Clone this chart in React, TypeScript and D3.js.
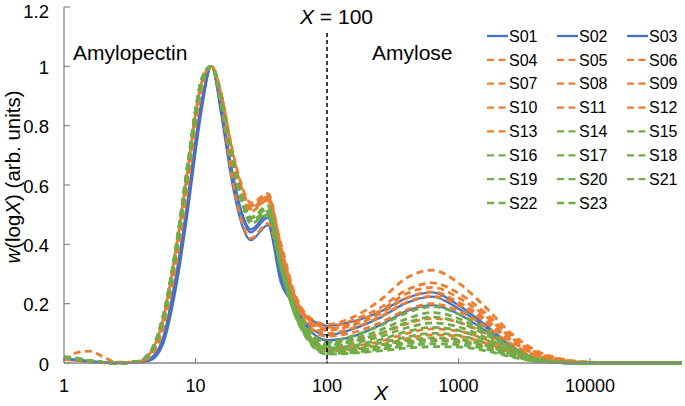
import React, { useEffect, useRef } from "react";
import * as d3 from "d3";

// degree of polymerisation X (log-spaced sampling)
const dpX = [1, 1.26, 1.58, 2, 2.51, 3.55, 4.47, 5.62, 7.08, 8.91, 10, 11.2, 13.2, 15.8, 18.6, 22.4, 26.3, 35.5, 44.7, 56.2, 70.8, 100, 158, 251, 398, 631, 1000, 1585, 2512, 3981, 6310, 10000, 15849, 50000];

// w(logX), normalised to the amylopectin peak
const S01 = [0.012, 0.008, 0.004, 0.001, 0, 0.001, 0.008, 0.06, 0.25, 0.54, 0.71, 0.86, 1.0, 0.83, 0.63, 0.47, 0.414, 0.465, 0.27, 0.2, 0.155, 0.125, 0.14, 0.172, 0.218, 0.238, 0.195, 0.13, 0.058, 0.012, 0, 0, 0, 0];
const S02 = [0.014, 0.01, 0.005, 0.001, 0, 0.002, 0.012, 0.075, 0.28, 0.57, 0.74, 0.88, 1.0, 0.85, 0.66, 0.5, 0.44, 0.49, 0.29, 0.19, 0.13, 0.094, 0.115, 0.152, 0.202, 0.224, 0.183, 0.122, 0.055, 0.012, 0, 0, 0, 0];
const S03 = [0.015, 0.011, 0.006, 0.002, 0, 0.002, 0.014, 0.08, 0.29, 0.58, 0.75, 0.89, 1.0, 0.86, 0.67, 0.51, 0.45, 0.5, 0.3, 0.19, 0.12, 0.077, 0.09, 0.127, 0.174, 0.195, 0.165, 0.11, 0.05, 0.01, 0, 0, 0, 0];
const S04 = [0.015, 0.01, 0.005, 0.001, 0, 0.003, 0.03, 0.14, 0.37, 0.67, 0.83, 0.95, 1.0, 0.9, 0.73, 0.58, 0.52, 0.55, 0.4, 0.24, 0.16, 0.13, 0.155, 0.21, 0.285, 0.313, 0.27, 0.19, 0.1, 0.04, 0.012, 0.003, 0, 0];
const S05 = [0.012, 0.008, 0.004, 0.001, 0, 0.002, 0.02, 0.11, 0.33, 0.63, 0.8, 0.93, 1.0, 0.86, 0.65, 0.48, 0.42, 0.47, 0.33, 0.22, 0.15, 0.12, 0.145, 0.185, 0.245, 0.27, 0.235, 0.17, 0.09, 0.035, 0.01, 0.002, 0, 0];
const S06 = [0.01, 0.035, 0.04, 0.02, 0.003, 0.003, 0.03, 0.14, 0.38, 0.68, 0.84, 0.95, 1.0, 0.9, 0.74, 0.6, 0.54, 0.57, 0.39, 0.23, 0.15, 0.115, 0.135, 0.175, 0.233, 0.255, 0.22, 0.16, 0.085, 0.032, 0.01, 0.002, 0, 0];
const S07 = [0.016, 0.011, 0.005, 0.001, 0, 0.003, 0.028, 0.13, 0.36, 0.66, 0.82, 0.94, 1.0, 0.89, 0.72, 0.58, 0.52, 0.56, 0.38, 0.23, 0.15, 0.11, 0.128, 0.165, 0.218, 0.24, 0.205, 0.15, 0.078, 0.03, 0.008, 0.002, 0, 0];
const S08 = [0.015, 0.01, 0.005, 0.001, 0, 0.003, 0.025, 0.12, 0.35, 0.65, 0.82, 0.94, 1.0, 0.88, 0.71, 0.57, 0.51, 0.55, 0.37, 0.22, 0.14, 0.1, 0.118, 0.155, 0.204, 0.225, 0.195, 0.14, 0.072, 0.027, 0.007, 0.001, 0, 0];
const S09 = [0.017, 0.012, 0.006, 0.002, 0, 0.003, 0.03, 0.14, 0.37, 0.67, 0.83, 0.95, 1.0, 0.89, 0.73, 0.59, 0.53, 0.56, 0.37, 0.21, 0.13, 0.09, 0.103, 0.135, 0.178, 0.2, 0.176, 0.125, 0.065, 0.024, 0.006, 0.001, 0, 0];
const S10 = [0.016, 0.011, 0.005, 0.001, 0, 0.003, 0.028, 0.13, 0.36, 0.66, 0.83, 0.94, 1.0, 0.89, 0.72, 0.58, 0.52, 0.55, 0.36, 0.2, 0.11, 0.07, 0.077, 0.098, 0.131, 0.15, 0.138, 0.1, 0.052, 0.02, 0.005, 0, 0, 0];
const S11 = [0.018, 0.013, 0.006, 0.002, 0, 0.003, 0.03, 0.14, 0.38, 0.68, 0.84, 0.95, 1.0, 0.9, 0.73, 0.59, 0.53, 0.57, 0.36, 0.19, 0.1, 0.05, 0.056, 0.072, 0.099, 0.115, 0.108, 0.08, 0.042, 0.016, 0.004, 0, 0, 0];
const S12 = [0.017, 0.012, 0.006, 0.002, 0, 0.003, 0.03, 0.14, 0.37, 0.67, 0.83, 0.95, 1.0, 0.89, 0.72, 0.58, 0.52, 0.56, 0.35, 0.19, 0.09, 0.04, 0.046, 0.06, 0.081, 0.095, 0.09, 0.068, 0.036, 0.013, 0.003, 0, 0, 0];
const S13 = [0.018, 0.013, 0.006, 0.002, 0, 0.003, 0.032, 0.15, 0.38, 0.68, 0.84, 0.95, 1.0, 0.9, 0.73, 0.58, 0.52, 0.55, 0.35, 0.18, 0.09, 0.035, 0.041, 0.052, 0.069, 0.08, 0.076, 0.058, 0.031, 0.011, 0.002, 0, 0, 0];
const S14 = [0.018, 0.013, 0.006, 0.001, 0, 0.004, 0.03, 0.14, 0.37, 0.68, 0.84, 0.95, 1.0, 0.88, 0.71, 0.56, 0.49, 0.52, 0.34, 0.2, 0.12, 0.07, 0.092, 0.125, 0.168, 0.19, 0.165, 0.115, 0.055, 0.015, 0.003, 0, 0, 0];
const S15 = [0.02, 0.014, 0.007, 0.002, 0, 0.004, 0.032, 0.15, 0.38, 0.69, 0.85, 0.95, 1.0, 0.88, 0.7, 0.55, 0.48, 0.51, 0.33, 0.19, 0.11, 0.065, 0.082, 0.11, 0.148, 0.17, 0.15, 0.105, 0.05, 0.013, 0.002, 0, 0, 0];
const S16 = [0.019, 0.014, 0.007, 0.002, 0, 0.004, 0.03, 0.14, 0.37, 0.68, 0.84, 0.95, 1.0, 0.88, 0.71, 0.56, 0.49, 0.52, 0.33, 0.19, 0.11, 0.06, 0.074, 0.099, 0.135, 0.155, 0.138, 0.097, 0.046, 0.012, 0.002, 0, 0, 0];
const S17 = [0.02, 0.015, 0.007, 0.002, 0, 0.004, 0.033, 0.15, 0.38, 0.69, 0.85, 0.96, 1.0, 0.88, 0.7, 0.55, 0.48, 0.5, 0.32, 0.18, 0.1, 0.055, 0.066, 0.088, 0.118, 0.135, 0.122, 0.087, 0.042, 0.011, 0.002, 0, 0, 0];
const S18 = [0.018, 0.013, 0.006, 0.001, 0, 0.004, 0.031, 0.14, 0.37, 0.68, 0.84, 0.95, 1.0, 0.88, 0.71, 0.56, 0.49, 0.52, 0.33, 0.18, 0.1, 0.05, 0.059, 0.078, 0.105, 0.12, 0.11, 0.078, 0.038, 0.01, 0.002, 0, 0, 0];
const S19 = [0.021, 0.015, 0.007, 0.002, 0, 0.004, 0.034, 0.15, 0.39, 0.7, 0.85, 0.96, 1.0, 0.87, 0.7, 0.55, 0.47, 0.5, 0.32, 0.18, 0.09, 0.045, 0.051, 0.067, 0.087, 0.1, 0.093, 0.068, 0.034, 0.009, 0.001, 0, 0, 0];
const S20 = [0.02, 0.014, 0.007, 0.002, 0, 0.004, 0.032, 0.15, 0.38, 0.69, 0.85, 0.95, 1.0, 0.88, 0.71, 0.56, 0.49, 0.53, 0.34, 0.19, 0.1, 0.04, 0.046, 0.059, 0.075, 0.085, 0.08, 0.06, 0.03, 0.008, 0.001, 0, 0, 0];
const S21 = [0.019, 0.014, 0.007, 0.002, 0, 0.004, 0.031, 0.14, 0.37, 0.68, 0.84, 0.95, 1.0, 0.88, 0.71, 0.56, 0.49, 0.52, 0.33, 0.18, 0.09, 0.035, 0.041, 0.052, 0.066, 0.075, 0.071, 0.054, 0.027, 0.007, 0.001, 0, 0, 0];
const S22 = [0.02, 0.015, 0.007, 0.002, 0, 0.004, 0.033, 0.15, 0.38, 0.69, 0.85, 0.96, 1.0, 0.88, 0.7, 0.55, 0.48, 0.51, 0.32, 0.17, 0.085, 0.032, 0.036, 0.046, 0.057, 0.065, 0.062, 0.048, 0.024, 0.006, 0.001, 0, 0, 0];
const S23 = [0.021, 0.016, 0.008, 0.002, 0, 0.004, 0.034, 0.15, 0.39, 0.7, 0.85, 0.96, 1.0, 0.87, 0.7, 0.55, 0.48, 0.5, 0.32, 0.17, 0.08, 0.03, 0.033, 0.041, 0.05, 0.055, 0.054, 0.042, 0.021, 0.005, 0.001, 0, 0, 0];

const seriesNames = ["S01", "S02", "S03", "S04", "S05", "S06", "S07", "S08", "S09", "S10", "S11", "S12", "S13", "S14", "S15", "S16", "S17", "S18", "S19", "S20", "S21", "S22", "S23"];
const seriesValues = [S01, S02, S03, S04, S05, S06, S07, S08, S09, S10, S11, S12, S13, S14, S15, S16, S17, S18, S19, S20, S21, S22, S23];

const xTicks = [1, 10, 100, 1000, 10000];
const yTicks = [0, 0.2, 0.4, 0.6, 0.8, 1, 1.2];

const W = 685;
const H = 406;
const FONT = "'Liberation Sans', Arial, sans-serif";

function styleFor(i: number) {
  if (i < 3) return { color: "#4472C4", dash: null as string | null, width: 2.3 };
  if (i < 13) return { color: "#ED7D31", dash: "7,4.5", width: 2.8 };
  return { color: "#70AD47", dash: "7,4.5", width: 2.8 };
}

export default function App() {
  const svgRef = useRef<SVGSVGElement>(null);

  useEffect(() => {
    if (!svgRef.current) return;
    const svg = d3.select(svgRef.current);
    svg.selectAll("*").remove();

    const left = 64, right = 682, top = 7, bottom = 363;
    const x = d3.scaleLog().domain([1, 50000]).range([left, right]);
    const y = d3.scaleLinear().domain([0, 1.2]).range([bottom, top]);

    // series
    const line = d3.line<number>()
      .x((_, i) => x(dpX[i]))
      .y(d => y(d))
      .curve(d3.curveMonotoneX);

    const g = svg.append("g");
    seriesValues.forEach((vals, i) => {
      const s = styleFor(i);
      g.append("path")
        .attr("d", line(vals) as string)
        .attr("fill", "none")
        .attr("stroke", s.color)
        .attr("stroke-width", s.width)
        .attr("stroke-dasharray", s.dash)
        .attr("stroke-linejoin", "round");
    });

    // axes
    const axisColor = "#868686";
    svg.append("line")
      .attr("x1", left).attr("x2", left).attr("y1", top).attr("y2", bottom)
      .attr("stroke", axisColor).attr("stroke-width", 1.3);
    svg.append("line")
      .attr("x1", left).attr("x2", right).attr("y1", bottom).attr("y2", bottom)
      .attr("stroke", axisColor).attr("stroke-width", 1.3);

    svg.selectAll(".ytick")
      .data(yTicks)
      .join("line")
      .attr("x1", left).attr("x2", left + 6)
      .attr("y1", d => y(d)).attr("y2", d => y(d))
      .attr("stroke", axisColor).attr("stroke-width", 1.2);

    // top label nudged down a little so it stays inside the frame
    svg.selectAll(".ylab")
      .data(yTicks)
      .join("text")
      .attr("x", 49)
      .attr("y", d => Math.max(y(d), 10))
      .attr("dy", "0.42em")
      .attr("text-anchor", "end")
      .attr("font-size", 18.5)
      .attr("font-family", FONT)
      .text(d => String(d));

    svg.selectAll(".xtick")
      .data(xTicks)
      .join("line")
      .attr("x1", d => x(d)).attr("x2", d => x(d))
      .attr("y1", bottom).attr("y2", bottom - 5)
      .attr("stroke", axisColor).attr("stroke-width", 1.2);

    svg.selectAll(".xlab")
      .data(xTicks)
      .join("text")
      .attr("x", d => x(d))
      .attr("y", 392)
      .attr("text-anchor", "middle")
      .attr("font-size", 18)
      .attr("font-family", FONT)
      .text(d => String(d));

    // axis titles
    svg.append("text")
      .attr("x", 381).attr("y", 400)
      .attr("text-anchor", "middle")
      .attr("font-size", 21)
      .attr("font-style", "italic")
      .attr("font-family", FONT)
      .text("X");

    const yt = svg.append("text")
      .attr("transform", `translate(20,${(top + bottom) / 2 - 8}) rotate(-90)`)
      .attr("text-anchor", "middle")
      .attr("font-size", 20.5)
      .attr("font-family", FONT);
    yt.append("tspan").attr("font-style", "italic").text("w");
    yt.append("tspan").text("(log");
    yt.append("tspan").attr("font-style", "italic").text("X");
    yt.append("tspan").text(") (arb. units)");

    // X = 100 marker
    svg.append("line")
      .attr("x1", x(100)).attr("x2", x(100))
      .attr("y1", 33).attr("y2", bottom)
      .attr("stroke", "#000").attr("stroke-width", 1.5)
      .attr("stroke-dasharray", "4,3");
    const mk = svg.append("text")
      .attr("x", 300).attr("y", 24)
      .attr("font-size", 21)
      .attr("font-family", FONT);
    mk.append("tspan").attr("font-style", "italic").text("X");
    mk.append("tspan").text(" = 100");

    svg.append("text")
      .attr("x", 73).attr("y", 60)
      .attr("font-size", 21)
      .attr("font-family", FONT)
      .text("Amylopectin");
    svg.append("text")
      .attr("x", 372).attr("y", 60)
      .attr("font-size", 21)
      .attr("font-family", FONT)
      .text("Amylose");

    // legend, 3 columns row-major
    const legend = svg.append("g");
    seriesNames.forEach((name, i) => {
      const s = styleFor(i);
      const lx = 487 + (i % 3) * 70;
      const ly = 36 + Math.floor(i / 3) * 23.86;
      legend.append("line")
        .attr("x1", lx).attr("x2", lx + 21)
        .attr("y1", ly).attr("y2", ly)
        .attr("stroke", s.color)
        .attr("stroke-width", Math.min(s.width, 2.3))
        .attr("stroke-dasharray", s.dash);
      legend.append("text")
        .attr("x", lx + 22).attr("y", ly + 5.7)
        .attr("font-size", 16)
        .attr("font-family", FONT)
        .text(name);
    });
  }, []);

  return (
    <svg
      ref={svgRef}
      width={W}
      height={H}
      style={{ position: "absolute", left: 0, top: 0, background: "#fff" }}
    />
  );
}
